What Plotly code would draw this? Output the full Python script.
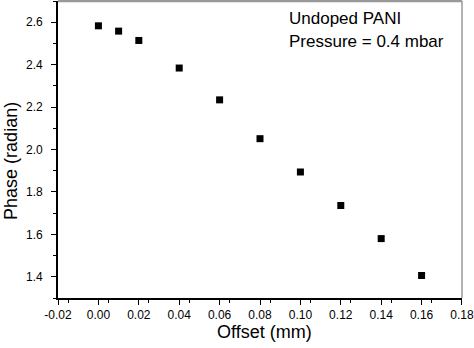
import plotly.graph_objects as go

offset_mm = [0.00, 0.01, 0.02, 0.04, 0.06, 0.08, 0.10, 0.12, 0.14, 0.16]
phase_rad = [2.583, 2.558, 2.514, 2.384, 2.234, 2.051, 1.894, 1.736, 1.580, 1.406]

x_ticks = [-0.02, 0.00, 0.02, 0.04, 0.06, 0.08, 0.10, 0.12, 0.14, 0.16, 0.18]
x_ticklabels = ["-0.02", "0.00", "0.02", "0.04", "0.06", "0.08", "0.10", "0.12", "0.14", "0.16", "0.18"]
y_ticks = [1.4, 1.6, 1.8, 2.0, 2.2, 2.4, 2.6]
y_ticklabels = ["1.4", "1.6", "1.8", "2.0", "2.2", "2.4", "2.6"]

FONT = "Liberation Sans, Arial, sans-serif"

fig = go.Figure()
fig.add_trace(go.Scatter(
    x=offset_mm, y=phase_rad, mode="markers",
    marker=dict(symbol="square", size=7, color="black", line=dict(width=0)),
    showlegend=False,
))

fig.update_layout(
    width=474, height=348,
    margin=dict(l=58, r=12, t=1, b=50),
    paper_bgcolor="white", plot_bgcolor="white",
    font=dict(family=FONT, color="black"),
    xaxis=dict(
        range=[-0.02001, 0.18001], tickmode="array", tickvals=x_ticks, ticktext=x_ticklabels,
        ticks="outside", ticklen=5, tickwidth=1.3, tickcolor="black",
        minor=dict(tickvals=[round(-0.015 + 0.02 * i, 3) for i in range(10)],
                   ticks="outside", ticklen=3, tickwidth=1.3, tickcolor="black"),
        showline=True, linecolor="black", linewidth=1.6, showgrid=False, zeroline=False,
        tickfont=dict(size=12, family=FONT), ticklabelstandoff=0,
    ),
    yaxis=dict(
        range=[1.3, 2.7], tickmode="array", tickvals=y_ticks, ticktext=y_ticklabels,
        ticks="outside", ticklen=5, tickwidth=1.3, tickcolor="black",
        minor=dict(dtick=0.1, ticks="outside", ticklen=3, tickwidth=1.3, tickcolor="black"),
        showline=True, linecolor="black", linewidth=1.6, showgrid=False, zeroline=False,
        tickfont=dict(size=12, family=FONT), ticklabelstandoff=6,
    ),
    shapes=[
        dict(type="line", xref="paper", yref="paper", x0=0, x1=1, y0=1, y1=1, layer="above",
             line=dict(color="#999999", width=2.5)),
        dict(type="line", xref="paper", yref="paper", x0=1, x1=1, y0=0, y1=1, layer="above",
             line=dict(color="#999999", width=1.5)),
    ],
    annotations=[
        dict(text="Undoped PANI", xref="paper", yref="paper", x=0.568, y=0.94,
             xanchor="left", yanchor="middle", showarrow=False,
             font=dict(size=17, family=FONT)),
        dict(text="Pressure = 0.4 mbar", xref="paper", yref="paper", x=0.568, y=0.864,
             xanchor="left", yanchor="middle", showarrow=False,
             font=dict(size=17, family=FONT)),
        dict(text="Offset (mm)", xref="paper", yref="paper", x=0.51, y=-0.113,
             xanchor="center", yanchor="middle", showarrow=False,
             font=dict(size=18, family=FONT)),
        dict(text="Phase (radian)", xref="paper", yref="paper", x=-0.115, y=0.46,
             xanchor="center", yanchor="middle", showarrow=False, textangle=-90,
             font=dict(size=18, family=FONT)),
    ],
)

fig.write_html("out.html")
